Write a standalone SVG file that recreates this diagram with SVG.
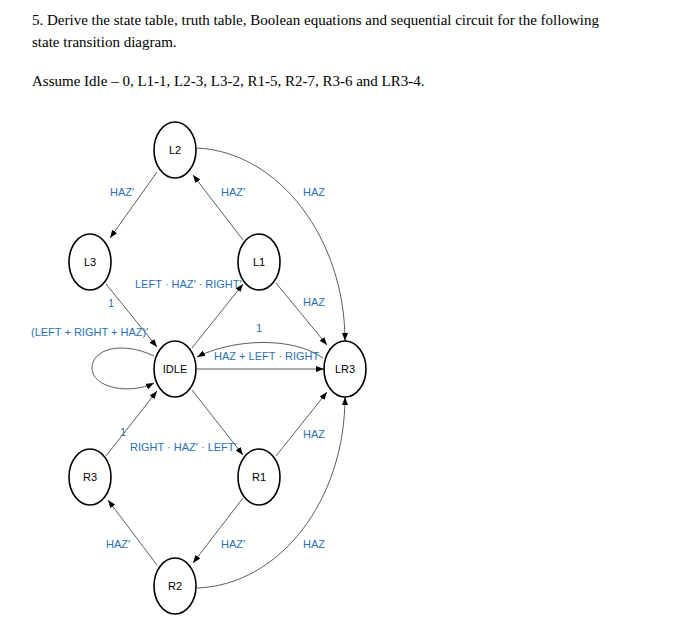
<svg xmlns="http://www.w3.org/2000/svg" width="690" height="634" viewBox="0 0 690 634">
<style>
.h{font-family:"Liberation Serif",serif;font-size:15px;fill:#000}
.n ellipse{fill:#fff;stroke:#000;stroke-width:1.6}
.n text{font-family:"Liberation Sans",Arial,sans-serif;font-size:11px;text-anchor:middle;fill:#000}
.e path{fill:none;stroke:#333;stroke-width:0.8;marker-end:url(#a)}
.l{font-family:"Liberation Sans",Arial,sans-serif;font-size:11px;fill:#2a70b8}
</style>
<defs><marker id="a" markerWidth="8" markerHeight="6" refX="8" refY="3" orient="auto" markerUnits="userSpaceOnUse"><path d="M0,0L8,3L0,6z" fill="#000"/></marker></defs>
<rect width="690" height="634" fill="#fff"/>
<text class="h" x="32" y="25">5. Derive the state table, truth table, Boolean equations and sequential circuit for the following</text>
<text class="h" x="32" y="47">state transition diagram.</text>
<text class="h" x="32" y="86">Assume Idle – 0, L1-1, L2-3, L3-2, R1-5, R2-7, R3-6 and LR3-4.</text>
<g class="e">
<path d="M157,172L110,238"/>
<path d="M243,240L193,175"/>
<path d="M197,148C280,152 345,240 345,341"/>
<path d="M106,284L157,347"/>
<path d="M192,348L243,284"/>
<path d="M276,283L327,345"/>
<path d="M323,358C290,335 230,340 197,357"/>
<path d="M197,369L324,369"/>
<path d="M154,356C120,340 92,350 92,368C92,388 130,395 154,383"/>
<path d="M192,390L243,455"/>
<path d="M276,456L327,392"/>
<path d="M106,456L157,391"/>
<path d="M157,565L108,500"/>
<path d="M243,498L193,563"/>
<path d="M197,588C280,585 345,500 345,397"/>
</g>
<g id="L2" class="n"><ellipse cx="175" cy="150" rx="21" ry="28"/><text x="175" y="154">L2</text></g>
<g id="L3" class="n"><ellipse cx="90" cy="262" rx="21" ry="28"/><text x="90" y="266">L3</text></g>
<g id="L1" class="n"><ellipse cx="259" cy="262" rx="21" ry="28"/><text x="259" y="266">L1</text></g>
<g id="IDLE" class="n"><ellipse cx="175" cy="369" rx="21" ry="28"/><text x="175" y="373">IDLE</text></g>
<g id="LR3" class="n"><ellipse cx="345" cy="369" rx="21" ry="28"/><text x="345" y="373">LR3</text></g>
<g id="R3" class="n"><ellipse cx="90" cy="477" rx="21" ry="28"/><text x="90" y="481">R3</text></g>
<g id="R1" class="n"><ellipse cx="259" cy="477" rx="21" ry="28"/><text x="259" y="481">R1</text></g>
<g id="R2" class="n"><ellipse cx="175" cy="586" rx="21" ry="28"/><text x="175" y="590">R2</text></g>
<g>
<text class="l" x="110" y="196">HAZ′</text>
<text class="l" x="221" y="196">HAZ′</text>
<text class="l" x="303" y="196">HAZ</text>
<text class="l" x="135" y="288">LEFT · HAZ′ · RIGHT′</text>
<text class="l" x="303" y="306">HAZ</text>
<text class="l" x="108" y="307">1</text>
<text class="l" x="31" y="336">(LEFT + RIGHT + HAZ)′</text>
<text class="l" x="256" y="332">1</text>
<text class="l" x="214" y="360">HAZ + LEFT · RIGHT</text>
<text class="l" x="120" y="436">1</text>
<text class="l" x="303" y="438">HAZ</text>
<text class="l" x="130" y="451">RIGHT · HAZ′ · LEFT′</text>
<text class="l" x="106" y="548">HAZ′</text>
<text class="l" x="221" y="548">HAZ′</text>
<text class="l" x="303" y="548">HAZ</text>
</g>
</svg>
